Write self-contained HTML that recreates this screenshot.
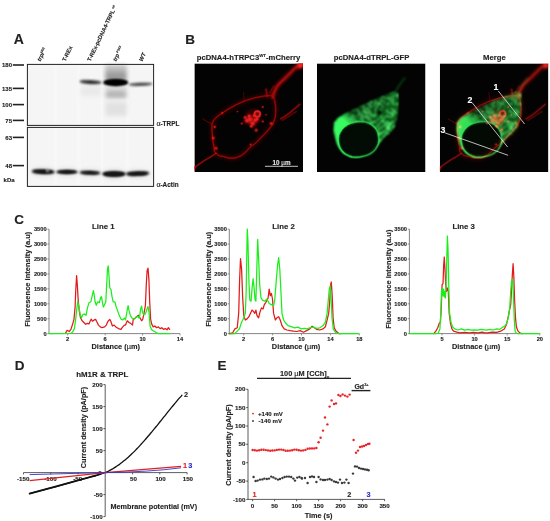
<!DOCTYPE html>
<html><head><meta charset="utf-8"><title>Figure</title>
<style>
html,body{margin:0;padding:0;background:#fff;}
body{width:550px;height:521px;overflow:hidden;font-family:"Liberation Sans",Arial,sans-serif;}
svg{display:block;}
svg text{font-family:"Liberation Sans",Arial,sans-serif;font-weight:bold;fill:#222;stroke:#222;stroke-width:0.22px;stroke-opacity:0.55;}
.it{font-style:italic;}
</style></head><body>
<svg width="550" height="521" viewBox="0 0 550 521">
<defs>
<filter id="bl1" x="-20%" y="-100%" width="140%" height="300%"><feGaussianBlur stdDeviation="0.9"/></filter>
<filter id="bl2" x="-20%" y="-50%" width="140%" height="200%"><feGaussianBlur stdDeviation="2.2"/></filter>
<filter id="soft" x="-5%" y="-5%" width="110%" height="110%"><feGaussianBlur stdDeviation="0.35"/></filter>
<filter id="g1" x="-20%" y="-20%" width="140%" height="140%"><feGaussianBlur stdDeviation="1.1"/></filter>
<filter id="g2" x="-20%" y="-20%" width="140%" height="140%"><feGaussianBlur stdDeviation="2.2"/></filter>
<filter id="cb1" x="-10%" y="-10%" width="120%" height="120%"><feGaussianBlur stdDeviation="3.8"/></filter>
<filter id="cb0" x="-10%" y="-10%" width="120%" height="120%"><feGaussianBlur stdDeviation="3.0"/></filter>
<filter id="cb2" x="-10%" y="-10%" width="120%" height="120%"><feGaussianBlur stdDeviation="5"/></filter>
<filter id="cb3" x="-10%" y="-10%" width="120%" height="120%"><feGaussianBlur stdDeviation="10"/></filter>
<filter id="net" x="0" y="0" width="100%" height="100%" color-interpolation-filters="sRGB">
 <feTurbulence type="turbulence" baseFrequency="0.17" numOctaves="2" seed="7" result="t"/>
 <feColorMatrix in="t" type="matrix" values="0 0 0 0 0.36  0 0 0 0 1.0  0 0 0 0 0.48  -6.0 0 0 0 1.45" result="c"/>
 <feComposite in="c" in2="SourceGraphic" operator="in" result="m"/>
 <feGaussianBlur in="m" stdDeviation="0.9"/>
</filter>
<linearGradient id="rimg" x1="0" y1="1" x2="1" y2="0"><stop offset="0" stop-color="#3cff68" stop-opacity="1"/><stop offset="0.36" stop-color="#38fa60" stop-opacity="1"/><stop offset="0.48" stop-color="#2ae650" stop-opacity="0"/></linearGradient>
<linearGradient id="gmg" gradientUnits="userSpaceOnUse" x1="24" y1="36" x2="58" y2="66"><stop offset="0" stop-color="#fff" stop-opacity="0.3"/><stop offset="0.55" stop-color="#fff" stop-opacity="0.75"/><stop offset="1" stop-color="#fff" stop-opacity="1"/></linearGradient>
<mask id="gm" maskUnits="userSpaceOnUse" x="0" y="0" width="110" height="110"><rect x="0" y="0" width="110" height="110" fill="url(#gmg)"/></mask>
<clipPath id="clip"><rect x="0" y="0" width="108.6" height="108.6"/></clipPath>

<g id="red" fill="none" stroke-linecap="round" stroke-linejoin="round">
<g filter="url(#g2)" opacity="0.32" stroke="#c00000">
<path d="M21.6 90.0C18.2 86.3 20.6 87.8 19.4 82.3C18.2 76.8 18.7 79.3 18.1 73.5C17.5 67.6 17.6 69.4 17.6 64.6C17.7 59.9 16.8 62.7 18.3 59.1C19.8 55.6 18.6 57.4 22.1 54.0C25.5 50.7 23.5 52.7 28.7 49.2C33.8 45.7 31.6 47.0 37.5 43.7C43.4 40.4 40.4 41.8 46.3 39.3C52.2 36.7 49.3 37.8 55.2 36.0C61.0 34.1 58.1 34.9 64.0 33.8C69.9 32.6 67.9 32.4 72.8 32.4C77.7 32.4 75.9 31.1 78.5 33.8C81.2 36.4 79.9 35.2 80.7 40.4C81.6 45.5 81.6 43.3 81.2 49.2C80.7 55.1 81.5 52.7 79.4 58.0C77.4 63.3 78.7 60.3 75.0 65.1C71.3 69.9 72.8 67.7 68.4 72.4C64.0 77.0 66.2 74.9 61.8 79.0C57.4 83.0 59.2 80.8 55.2 84.5C51.1 88.2 53.3 87.1 49.6 90.0C46.0 92.9 48.2 91.8 44.1 93.3C40.1 94.9 42.3 94.6 37.5 94.6C32.7 94.6 35.1 94.9 29.8 93.3C24.5 91.8 25.1 93.7 21.6 90.0Z" stroke-width="3.5"/>
<path d="M78.5 33.8C79.2 31.5 78.8 31.2 80.5 27.1C82.3 23.1 80.9 25.3 83.8 21.6C86.8 17.9 85.3 20.1 89.3 16.1C93.4 12.1 91.9 13.5 96.0 9.5C100.0 5.5 97.6 7.1 101.5 4.2C105.4 1.3 105.6 1.8 107.7 0.7" stroke-width="4"/>
<circle cx="58.5" cy="54" r="8.4" fill="#b00000" stroke="none"/>
</g>
<path d="M21.6 90.0C18.2 86.3 20.6 87.8 19.4 82.3C18.2 76.8 18.7 79.3 18.1 73.5C17.5 67.6 17.6 69.4 17.6 64.6C17.7 59.9 16.8 62.7 18.3 59.1C19.8 55.6 18.6 57.4 22.1 54.0C25.5 50.7 23.5 52.7 28.7 49.2C33.8 45.7 31.6 47.0 37.5 43.7C43.4 40.4 40.4 41.8 46.3 39.3C52.2 36.7 49.3 37.8 55.2 36.0C61.0 34.1 58.1 34.9 64.0 33.8C69.9 32.6 67.9 32.4 72.8 32.4C77.7 32.4 75.9 31.1 78.5 33.8C81.2 36.4 79.9 35.2 80.7 40.4C81.6 45.5 81.6 43.3 81.2 49.2C80.7 55.1 81.5 52.7 79.4 58.0C77.4 63.3 78.7 60.3 75.0 65.1C71.3 69.9 72.8 67.7 68.4 72.4C64.0 77.0 66.2 74.9 61.8 79.0C57.4 83.0 59.2 80.8 55.2 84.5C51.1 88.2 53.3 87.1 49.6 90.0C46.0 92.9 48.2 91.8 44.1 93.3C40.1 94.9 42.3 94.6 37.5 94.6C32.7 94.6 35.1 94.9 29.8 93.3C24.5 91.8 25.1 93.7 21.6 90.0Z" stroke="#cc1313" stroke-width="2.72" stroke-opacity="0.08"/>
<path d="M21.6 90.0C18.2 86.3 20.6 87.8 19.4 82.3C18.2 76.8 18.7 79.3 18.1 73.5C17.5 67.6 17.6 69.4 17.6 64.6C17.7 59.9 16.8 62.7 18.3 59.1C19.8 55.6 18.6 57.4 22.1 54.0C25.5 50.7 23.5 52.7 28.7 49.2C33.8 45.7 31.6 47.0 37.5 43.7C43.4 40.4 40.4 41.8 46.3 39.3C52.2 36.7 49.3 37.8 55.2 36.0C61.0 34.1 58.1 34.9 64.0 33.8C69.9 32.6 67.9 32.4 72.8 32.4C77.7 32.4 75.9 31.1 78.5 33.8C81.2 36.4 79.9 35.2 80.7 40.4C81.6 45.5 81.6 43.3 81.2 49.2C80.7 55.1 81.5 52.7 79.4 58.0C77.4 63.3 78.7 60.3 75.0 65.1C71.3 69.9 72.8 67.7 68.4 72.4C64.0 77.0 66.2 74.9 61.8 79.0C57.4 83.0 59.2 80.8 55.2 84.5C51.1 88.2 53.3 87.1 49.6 90.0C46.0 92.9 48.2 91.8 44.1 93.3C40.1 94.9 42.3 94.6 37.5 94.6C32.7 94.6 35.1 94.9 29.8 93.3C24.5 91.8 25.1 93.7 21.6 90.0Z" stroke="#cc1313" stroke-width="1.92" stroke-opacity="0.13"/>
<path d="M21.6 90.0C18.2 86.3 20.6 87.8 19.4 82.3C18.2 76.8 18.7 79.3 18.1 73.5C17.5 67.6 17.6 69.4 17.6 64.6C17.7 59.9 16.8 62.7 18.3 59.1C19.8 55.6 18.6 57.4 22.1 54.0C25.5 50.7 23.5 52.7 28.7 49.2C33.8 45.7 31.6 47.0 37.5 43.7C43.4 40.4 40.4 41.8 46.3 39.3C52.2 36.7 49.3 37.8 55.2 36.0C61.0 34.1 58.1 34.9 64.0 33.8C69.9 32.6 67.9 32.4 72.8 32.4C77.7 32.4 75.9 31.1 78.5 33.8C81.2 36.4 79.9 35.2 80.7 40.4C81.6 45.5 81.6 43.3 81.2 49.2C80.7 55.1 81.5 52.7 79.4 58.0C77.4 63.3 78.7 60.3 75.0 65.1C71.3 69.9 72.8 67.7 68.4 72.4C64.0 77.0 66.2 74.9 61.8 79.0C57.4 83.0 59.2 80.8 55.2 84.5C51.1 88.2 53.3 87.1 49.6 90.0C46.0 92.9 48.2 91.8 44.1 93.3C40.1 94.9 42.3 94.6 37.5 94.6C32.7 94.6 35.1 94.9 29.8 93.3C24.5 91.8 25.1 93.7 21.6 90.0Z" stroke="#cc1313" stroke-width="1.28" stroke-opacity="0.25"/>
<path d="M21.6 90.0C18.2 86.3 20.6 87.8 19.4 82.3C18.2 76.8 18.7 79.3 18.1 73.5C17.5 67.6 17.6 69.4 17.6 64.6C17.7 59.9 16.8 62.7 18.3 59.1C19.8 55.6 18.6 57.4 22.1 54.0C25.5 50.7 23.5 52.7 28.7 49.2C33.8 45.7 31.6 47.0 37.5 43.7C43.4 40.4 40.4 41.8 46.3 39.3C52.2 36.7 49.3 37.8 55.2 36.0C61.0 34.1 58.1 34.9 64.0 33.8C69.9 32.6 67.9 32.4 72.8 32.4C77.7 32.4 75.9 31.1 78.5 33.8C81.2 36.4 79.9 35.2 80.7 40.4C81.6 45.5 81.6 43.3 81.2 49.2C80.7 55.1 81.5 52.7 79.4 58.0C77.4 63.3 78.7 60.3 75.0 65.1C71.3 69.9 72.8 67.7 68.4 72.4C64.0 77.0 66.2 74.9 61.8 79.0C57.4 83.0 59.2 80.8 55.2 84.5C51.1 88.2 53.3 87.1 49.6 90.0C46.0 92.9 48.2 91.8 44.1 93.3C40.1 94.9 42.3 94.6 37.5 94.6C32.7 94.6 35.1 94.9 29.8 93.3C24.5 91.8 25.1 93.7 21.6 90.0Z" stroke="#cc1313" stroke-width="0.80" stroke-opacity="0.61"/>
<path d="M78.5 33.8C79.2 31.5 78.8 31.2 80.5 27.1C82.3 23.1 80.9 25.3 83.8 21.6C86.8 17.9 85.3 20.1 89.3 16.1C93.4 12.1 91.9 13.5 96.0 9.5C100.0 5.5 97.6 7.1 101.5 4.2C105.4 1.3 105.6 1.8 107.7 0.7" stroke="#8a0c0c" stroke-width="4.2" filter="url(#g1)" opacity="0.8"/>
<path d="M78.5 33.8C79.2 31.5 78.8 31.2 80.5 27.1C82.3 23.1 80.9 25.3 83.8 21.6C86.8 17.9 85.3 20.1 89.3 16.1C93.4 12.1 91.9 13.5 96.0 9.5C100.0 5.5 97.6 7.1 101.5 4.2C105.4 1.3 105.6 1.8 107.7 0.7" stroke="#c01212" stroke-width="4.08" stroke-opacity="0.06"/>
<path d="M78.5 33.8C79.2 31.5 78.8 31.2 80.5 27.1C82.3 23.1 80.9 25.3 83.8 21.6C86.8 17.9 85.3 20.1 89.3 16.1C93.4 12.1 91.9 13.5 96.0 9.5C100.0 5.5 97.6 7.1 101.5 4.2C105.4 1.3 105.6 1.8 107.7 0.7" stroke="#c01212" stroke-width="2.88" stroke-opacity="0.10"/>
<path d="M78.5 33.8C79.2 31.5 78.8 31.2 80.5 27.1C82.3 23.1 80.9 25.3 83.8 21.6C86.8 17.9 85.3 20.1 89.3 16.1C93.4 12.1 91.9 13.5 96.0 9.5C100.0 5.5 97.6 7.1 101.5 4.2C105.4 1.3 105.6 1.8 107.7 0.7" stroke="#c01212" stroke-width="1.92" stroke-opacity="0.18"/>
<path d="M78.5 33.8C79.2 31.5 78.8 31.2 80.5 27.1C82.3 23.1 80.9 25.3 83.8 21.6C86.8 17.9 85.3 20.1 89.3 16.1C93.4 12.1 91.9 13.5 96.0 9.5C100.0 5.5 97.6 7.1 101.5 4.2C105.4 1.3 105.6 1.8 107.7 0.7" stroke="#c01212" stroke-width="1.20" stroke-opacity="0.45"/>
<path d="M21.6 90.0C19.9 91.1 20.8 90.7 16.5 93.3C12.3 96.0 14.2 94.4 8.8 97.9C3.5 101.5 3.2 101.9 0.4 103.9" stroke="#cc1313" stroke-width="3.23" stroke-opacity="0.09"/>
<path d="M21.6 90.0C19.9 91.1 20.8 90.7 16.5 93.3C12.3 96.0 14.2 94.4 8.8 97.9C3.5 101.5 3.2 101.9 0.4 103.9" stroke="#cc1313" stroke-width="2.28" stroke-opacity="0.14"/>
<path d="M21.6 90.0C19.9 91.1 20.8 90.7 16.5 93.3C12.3 96.0 14.2 94.4 8.8 97.9C3.5 101.5 3.2 101.9 0.4 103.9" stroke="#cc1313" stroke-width="1.52" stroke-opacity="0.26"/>
<path d="M21.6 90.0C19.9 91.1 20.8 90.7 16.5 93.3C12.3 96.0 14.2 94.4 8.8 97.9C3.5 101.5 3.2 101.9 0.4 103.9" stroke="#cc1313" stroke-width="0.95" stroke-opacity="0.64"/>
<path d="M0.4 103.9L-0.4 106.5" stroke="#e01515" stroke-width="4.08" stroke-opacity="0.10"/>
<path d="M0.4 103.9L-0.4 106.5" stroke="#e01515" stroke-width="2.88" stroke-opacity="0.16"/>
<path d="M0.4 103.9L-0.4 106.5" stroke="#e01515" stroke-width="1.92" stroke-opacity="0.30"/>
<path d="M0.4 103.9L-0.4 106.5" stroke="#e01515" stroke-width="1.20" stroke-opacity="0.75"/>
<path d="M86.5 55.4C88.5 54.0 88.4 54.5 92.7 51.4C96.9 48.3 95.1 49.6 99.3 46.1C103.5 42.7 103.2 42.7 105.2 41.0" stroke="#b81010" stroke-width="4.42" stroke-opacity="0.07"/>
<path d="M86.5 55.4C88.5 54.0 88.4 54.5 92.7 51.4C96.9 48.3 95.1 49.6 99.3 46.1C103.5 42.7 103.2 42.7 105.2 41.0" stroke="#b81010" stroke-width="3.12" stroke-opacity="0.11"/>
<path d="M86.5 55.4C88.5 54.0 88.4 54.5 92.7 51.4C96.9 48.3 95.1 49.6 99.3 46.1C103.5 42.7 103.2 42.7 105.2 41.0" stroke="#b81010" stroke-width="2.08" stroke-opacity="0.21"/>
<path d="M86.5 55.4C88.5 54.0 88.4 54.5 92.7 51.4C96.9 48.3 95.1 49.6 99.3 46.1C103.5 42.7 103.2 42.7 105.2 41.0" stroke="#b81010" stroke-width="1.30" stroke-opacity="0.52"/>
<path d="M88.2 56.9C90.8 55.2 91.4 54.7 96.0 51.8C100.5 49.0 99.9 49.5 101.9 48.3" stroke="#a00e0e" stroke-width="3.40" stroke-opacity="0.06"/>
<path d="M88.2 56.9C90.8 55.2 91.4 54.7 96.0 51.8C100.5 49.0 99.9 49.5 101.9 48.3" stroke="#a00e0e" stroke-width="2.40" stroke-opacity="0.10"/>
<path d="M88.2 56.9C90.8 55.2 91.4 54.7 96.0 51.8C100.5 49.0 99.9 49.5 101.9 48.3" stroke="#a00e0e" stroke-width="1.60" stroke-opacity="0.18"/>
<path d="M88.2 56.9C90.8 55.2 91.4 54.7 96.0 51.8C100.5 49.0 99.9 49.5 101.9 48.3" stroke="#a00e0e" stroke-width="1.00" stroke-opacity="0.45"/>
<path d="M8.4 55.4C10.0 56.4 10.0 56.7 13.2 58.5C16.5 60.2 16.5 59.9 18.1 60.7" stroke="#b00c0c" stroke-width="2.04" stroke-opacity="0.06"/>
<path d="M8.4 55.4C10.0 56.4 10.0 56.7 13.2 58.5C16.5 60.2 16.5 59.9 18.1 60.7" stroke="#b00c0c" stroke-width="1.44" stroke-opacity="0.10"/>
<path d="M8.4 55.4C10.0 56.4 10.0 56.7 13.2 58.5C16.5 60.2 16.5 59.9 18.1 60.7" stroke="#b00c0c" stroke-width="0.96" stroke-opacity="0.18"/>
<path d="M8.4 55.4C10.0 56.4 10.0 56.7 13.2 58.5C16.5 60.2 16.5 59.9 18.1 60.7" stroke="#b00c0c" stroke-width="0.60" stroke-opacity="0.45"/>
<path d="M49.2 28.9C49.3 30.7 49.4 31.1 49.6 34.2C49.9 37.3 49.8 36.8 49.9 38.2" stroke="#a00a0a" stroke-width="1.87" stroke-opacity="0.06"/>
<path d="M49.2 28.9C49.3 30.7 49.4 31.1 49.6 34.2C49.9 37.3 49.8 36.8 49.9 38.2" stroke="#a00a0a" stroke-width="1.32" stroke-opacity="0.09"/>
<path d="M49.2 28.9C49.3 30.7 49.4 31.1 49.6 34.2C49.9 37.3 49.8 36.8 49.9 38.2" stroke="#a00a0a" stroke-width="0.88" stroke-opacity="0.17"/>
<path d="M49.2 28.9C49.3 30.7 49.4 31.1 49.6 34.2C49.9 37.3 49.8 36.8 49.9 38.2" stroke="#a00a0a" stroke-width="0.55" stroke-opacity="0.41"/>
<path d="M71.7 26.0C72.1 28.2 72.4 30.4 72.8 32.6" stroke="#b00c0c" stroke-width="5.10" stroke-opacity="0.07"/>
<path d="M71.7 26.0C72.1 28.2 72.4 30.4 72.8 32.6" stroke="#b00c0c" stroke-width="3.60" stroke-opacity="0.11"/>
<path d="M71.7 26.0C72.1 28.2 72.4 30.4 72.8 32.6" stroke="#b00c0c" stroke-width="2.40" stroke-opacity="0.21"/>
<path d="M71.7 26.0C72.1 28.2 72.4 30.4 72.8 32.6" stroke="#b00c0c" stroke-width="1.50" stroke-opacity="0.52"/>
<path d="M77.6 31.5L82.7 24.5M75.4 29.3L79.4 22.7" stroke="#a00a0a" stroke-width="3.74" stroke-opacity="0.06"/>
<path d="M77.6 31.5L82.7 24.5M75.4 29.3L79.4 22.7" stroke="#a00a0a" stroke-width="2.64" stroke-opacity="0.09"/>
<path d="M77.6 31.5L82.7 24.5M75.4 29.3L79.4 22.7" stroke="#a00a0a" stroke-width="1.76" stroke-opacity="0.17"/>
<path d="M77.6 31.5L82.7 24.5M75.4 29.3L79.4 22.7" stroke="#a00a0a" stroke-width="1.10" stroke-opacity="0.41"/>
<circle cx="105.9" cy="2.0" r="5.72" fill="#ff2222" fill-opacity="0.10" stroke="none"/>
<circle cx="105.9" cy="2.0" r="4.16" fill="#ff2222" fill-opacity="0.20" stroke="none"/>
<circle cx="105.9" cy="2.0" r="2.99" fill="#ff2222" fill-opacity="0.35" stroke="none"/>
<circle cx="105.9" cy="2.0" r="2.08" fill="#ff2222" fill-opacity="0.80" stroke="none"/>
<circle cx="62.9" cy="50.6" r="2.9" stroke="#f82424" stroke-width="1.6" stroke-opacity="0.85" fill="#a01010" fill-opacity="0.6"/>
<circle cx="62.9" cy="50.6" r="2.9" stroke="#f82424" stroke-width="3" stroke-opacity="0.25"/>
<circle cx="55.6" cy="55.8" r="5.34" fill="#fa2424" fill-opacity="0.09" stroke="none"/>
<circle cx="55.6" cy="55.8" r="3.88" fill="#fa2424" fill-opacity="0.18" stroke="none"/>
<circle cx="55.6" cy="55.8" r="2.79" fill="#fa2424" fill-opacity="0.32" stroke="none"/>
<circle cx="55.6" cy="55.8" r="1.94" fill="#fa2424" fill-opacity="0.72" stroke="none"/>
<circle cx="58.2" cy="60.2" r="4.80" fill="#fa2424" fill-opacity="0.09" stroke="none"/>
<circle cx="58.2" cy="60.2" r="3.49" fill="#fa2424" fill-opacity="0.18" stroke="none"/>
<circle cx="58.2" cy="60.2" r="2.51" fill="#fa2424" fill-opacity="0.32" stroke="none"/>
<circle cx="58.2" cy="60.2" r="1.75" fill="#fa2424" fill-opacity="0.72" stroke="none"/>
<circle cx="52.5" cy="57.1" r="4.27" fill="#fa2424" fill-opacity="0.09" stroke="none"/>
<circle cx="52.5" cy="57.1" r="3.11" fill="#fa2424" fill-opacity="0.18" stroke="none"/>
<circle cx="52.5" cy="57.1" r="2.23" fill="#fa2424" fill-opacity="0.32" stroke="none"/>
<circle cx="52.5" cy="57.1" r="1.55" fill="#fa2424" fill-opacity="0.72" stroke="none"/>
<circle cx="60.9" cy="56.7" r="4.27" fill="#fa2424" fill-opacity="0.09" stroke="none"/>
<circle cx="60.9" cy="56.7" r="3.11" fill="#fa2424" fill-opacity="0.18" stroke="none"/>
<circle cx="60.9" cy="56.7" r="2.23" fill="#fa2424" fill-opacity="0.32" stroke="none"/>
<circle cx="60.9" cy="56.7" r="1.55" fill="#fa2424" fill-opacity="0.72" stroke="none"/>
<circle cx="54.7" cy="52.7" r="3.20" fill="#fa2424" fill-opacity="0.09" stroke="none"/>
<circle cx="54.7" cy="52.7" r="2.33" fill="#fa2424" fill-opacity="0.18" stroke="none"/>
<circle cx="54.7" cy="52.7" r="1.67" fill="#fa2424" fill-opacity="0.32" stroke="none"/>
<circle cx="54.7" cy="52.7" r="1.16" fill="#fa2424" fill-opacity="0.72" stroke="none"/>
<circle cx="62.7" cy="55.4" r="3.20" fill="#fa2424" fill-opacity="0.09" stroke="none"/>
<circle cx="62.7" cy="55.4" r="2.33" fill="#fa2424" fill-opacity="0.18" stroke="none"/>
<circle cx="62.7" cy="55.4" r="1.67" fill="#fa2424" fill-opacity="0.32" stroke="none"/>
<circle cx="62.7" cy="55.4" r="1.16" fill="#fa2424" fill-opacity="0.72" stroke="none"/>
<circle cx="50.7" cy="54.0" r="2.67" fill="#fa2424" fill-opacity="0.09" stroke="none"/>
<circle cx="50.7" cy="54.0" r="1.94" fill="#fa2424" fill-opacity="0.18" stroke="none"/>
<circle cx="50.7" cy="54.0" r="1.40" fill="#fa2424" fill-opacity="0.32" stroke="none"/>
<circle cx="50.7" cy="54.0" r="0.97" fill="#fa2424" fill-opacity="0.72" stroke="none"/>
<circle cx="59.6" cy="52.3" r="2.67" fill="#fa2424" fill-opacity="0.09" stroke="none"/>
<circle cx="59.6" cy="52.3" r="1.94" fill="#fa2424" fill-opacity="0.18" stroke="none"/>
<circle cx="59.6" cy="52.3" r="1.40" fill="#fa2424" fill-opacity="0.32" stroke="none"/>
<circle cx="59.6" cy="52.3" r="0.97" fill="#fa2424" fill-opacity="0.72" stroke="none"/>
<circle cx="56.9" cy="62.9" r="2.67" fill="#fa2424" fill-opacity="0.09" stroke="none"/>
<circle cx="56.9" cy="62.9" r="1.94" fill="#fa2424" fill-opacity="0.18" stroke="none"/>
<circle cx="56.9" cy="62.9" r="1.40" fill="#fa2424" fill-opacity="0.32" stroke="none"/>
<circle cx="56.9" cy="62.9" r="0.97" fill="#fa2424" fill-opacity="0.72" stroke="none"/>
<circle cx="20.3" cy="63.5" r="2.55" fill="#ee1a1a" fill-opacity="0.09" stroke="none"/>
<circle cx="20.3" cy="63.5" r="1.85" fill="#ee1a1a" fill-opacity="0.17" stroke="none"/>
<circle cx="20.3" cy="63.5" r="1.33" fill="#ee1a1a" fill-opacity="0.30" stroke="none"/>
<circle cx="20.3" cy="63.5" r="0.93" fill="#ee1a1a" fill-opacity="0.68" stroke="none"/>
<circle cx="18.8" cy="74.6" r="3.06" fill="#ee1a1a" fill-opacity="0.09" stroke="none"/>
<circle cx="18.8" cy="74.6" r="2.22" fill="#ee1a1a" fill-opacity="0.17" stroke="none"/>
<circle cx="18.8" cy="74.6" r="1.60" fill="#ee1a1a" fill-opacity="0.30" stroke="none"/>
<circle cx="18.8" cy="74.6" r="1.11" fill="#ee1a1a" fill-opacity="0.68" stroke="none"/>
<circle cx="21.6" cy="84.9" r="3.06" fill="#ee1a1a" fill-opacity="0.09" stroke="none"/>
<circle cx="21.6" cy="84.9" r="2.22" fill="#ee1a1a" fill-opacity="0.17" stroke="none"/>
<circle cx="21.6" cy="84.9" r="1.60" fill="#ee1a1a" fill-opacity="0.30" stroke="none"/>
<circle cx="21.6" cy="84.9" r="1.11" fill="#ee1a1a" fill-opacity="0.68" stroke="none"/>
<circle cx="61.8" cy="66.8" r="3.06" fill="#ee1a1a" fill-opacity="0.09" stroke="none"/>
<circle cx="61.8" cy="66.8" r="2.22" fill="#ee1a1a" fill-opacity="0.17" stroke="none"/>
<circle cx="61.8" cy="66.8" r="1.60" fill="#ee1a1a" fill-opacity="0.30" stroke="none"/>
<circle cx="61.8" cy="66.8" r="1.11" fill="#ee1a1a" fill-opacity="0.68" stroke="none"/>
<circle cx="76.8" cy="60.2" r="3.06" fill="#ee1a1a" fill-opacity="0.09" stroke="none"/>
<circle cx="76.8" cy="60.2" r="2.22" fill="#ee1a1a" fill-opacity="0.17" stroke="none"/>
<circle cx="76.8" cy="60.2" r="1.60" fill="#ee1a1a" fill-opacity="0.30" stroke="none"/>
<circle cx="76.8" cy="60.2" r="1.11" fill="#ee1a1a" fill-opacity="0.68" stroke="none"/>
<circle cx="56.3" cy="81.2" r="2.04" fill="#ee1a1a" fill-opacity="0.09" stroke="none"/>
<circle cx="56.3" cy="81.2" r="1.48" fill="#ee1a1a" fill-opacity="0.17" stroke="none"/>
<circle cx="56.3" cy="81.2" r="1.07" fill="#ee1a1a" fill-opacity="0.30" stroke="none"/>
<circle cx="56.3" cy="81.2" r="0.74" fill="#ee1a1a" fill-opacity="0.68" stroke="none"/>
<circle cx="27.8" cy="49.6" r="2.04" fill="#ee1a1a" fill-opacity="0.09" stroke="none"/>
<circle cx="27.8" cy="49.6" r="1.48" fill="#ee1a1a" fill-opacity="0.17" stroke="none"/>
<circle cx="27.8" cy="49.6" r="1.07" fill="#ee1a1a" fill-opacity="0.30" stroke="none"/>
<circle cx="27.8" cy="49.6" r="0.74" fill="#ee1a1a" fill-opacity="0.68" stroke="none"/>
<circle cx="68.4" cy="43.7" r="2.04" fill="#ee1a1a" fill-opacity="0.09" stroke="none"/>
<circle cx="68.4" cy="43.7" r="1.48" fill="#ee1a1a" fill-opacity="0.17" stroke="none"/>
<circle cx="68.4" cy="43.7" r="1.07" fill="#ee1a1a" fill-opacity="0.30" stroke="none"/>
<circle cx="68.4" cy="43.7" r="0.74" fill="#ee1a1a" fill-opacity="0.68" stroke="none"/>
<circle cx="43.0" cy="48.1" r="1.53" fill="#ee1a1a" fill-opacity="0.09" stroke="none"/>
<circle cx="43.0" cy="48.1" r="1.11" fill="#ee1a1a" fill-opacity="0.17" stroke="none"/>
<circle cx="43.0" cy="48.1" r="0.80" fill="#ee1a1a" fill-opacity="0.30" stroke="none"/>
<circle cx="43.0" cy="48.1" r="0.56" fill="#ee1a1a" fill-opacity="0.68" stroke="none"/>
<circle cx="47.4" cy="60.2" r="2.04" fill="#ee1a1a" fill-opacity="0.09" stroke="none"/>
<circle cx="47.4" cy="60.2" r="1.48" fill="#ee1a1a" fill-opacity="0.17" stroke="none"/>
<circle cx="47.4" cy="60.2" r="1.07" fill="#ee1a1a" fill-opacity="0.30" stroke="none"/>
<circle cx="47.4" cy="60.2" r="0.74" fill="#ee1a1a" fill-opacity="0.68" stroke="none"/>
<circle cx="68.4" cy="58.0" r="2.04" fill="#ee1a1a" fill-opacity="0.09" stroke="none"/>
<circle cx="68.4" cy="58.0" r="1.48" fill="#ee1a1a" fill-opacity="0.17" stroke="none"/>
<circle cx="68.4" cy="58.0" r="1.07" fill="#ee1a1a" fill-opacity="0.30" stroke="none"/>
<circle cx="68.4" cy="58.0" r="0.74" fill="#ee1a1a" fill-opacity="0.68" stroke="none"/>
<circle cx="71.7" cy="51.4" r="1.53" fill="#ee1a1a" fill-opacity="0.09" stroke="none"/>
<circle cx="71.7" cy="51.4" r="1.11" fill="#ee1a1a" fill-opacity="0.17" stroke="none"/>
<circle cx="71.7" cy="51.4" r="0.80" fill="#ee1a1a" fill-opacity="0.30" stroke="none"/>
<circle cx="71.7" cy="51.4" r="0.56" fill="#ee1a1a" fill-opacity="0.68" stroke="none"/>
</g>
<g id="green" fill="none" stroke-linecap="round" stroke-linejoin="round">
<g mask="url(#gm)">
<path d="M17.2 62.4C17.5 56.8 17.2 60.0 19.4 56.9C21.6 53.8 19.4 56.1 23.8 53.2C28.2 50.2 26.0 51.6 32.6 48.1C39.3 44.6 36.3 46.2 43.7 42.6C51.0 39.0 47.4 40.5 54.7 37.3C62.1 34.0 59.3 35.5 65.7 32.9C72.2 30.2 69.3 30.5 74.1 29.3C78.9 28.2 77.7 27.1 80.1 29.3C82.5 31.5 81.1 30.1 81.4 36.0C81.7 41.8 81.7 39.6 81.0 47.0C80.2 54.3 81.2 51.4 79.2 58.0C77.2 64.6 78.6 61.7 75.0 66.8C71.4 72.0 72.8 69.0 68.4 73.5C64.0 77.9 66.2 75.7 61.8 80.1C57.4 84.5 59.7 83.0 55.2 86.7C50.6 90.4 53.4 88.8 48.1 91.1C42.8 93.4 45.2 93.4 39.3 93.5C33.4 93.7 35.9 94.4 30.4 91.6C25.0 88.7 26.9 90.8 22.9 84.9C19.0 79.0 20.4 81.4 18.5 73.9C16.6 66.4 16.9 68.1 17.2 62.4Z" fill="#0b5f1e" stroke="none" filter="url(#g1)"/>
<path d="M17.2 62.4C17.5 56.8 17.2 60.0 19.4 56.9C21.6 53.8 19.4 56.1 23.8 53.2C28.2 50.2 26.0 51.6 32.6 48.1C39.3 44.6 36.3 46.2 43.7 42.6C51.0 39.0 47.4 40.5 54.7 37.3C62.1 34.0 59.3 35.5 65.7 32.9C72.2 30.2 69.3 30.5 74.1 29.3C78.9 28.2 77.7 27.1 80.1 29.3C82.5 31.5 81.1 30.1 81.4 36.0C81.7 41.8 81.7 39.6 81.0 47.0C80.2 54.3 81.2 51.4 79.2 58.0C77.2 64.6 78.6 61.7 75.0 66.8C71.4 72.0 72.8 69.0 68.4 73.5C64.0 77.9 66.2 75.7 61.8 80.1C57.4 84.5 59.7 83.0 55.2 86.7C50.6 90.4 53.4 88.8 48.1 91.1C42.8 93.4 45.2 93.4 39.3 93.5C33.4 93.7 35.9 94.4 30.4 91.6C25.0 88.7 26.9 90.8 22.9 84.9C19.0 79.0 20.4 81.4 18.5 73.9C16.6 66.4 16.9 68.1 17.2 62.4Z" fill="#00ff00" stroke="none" filter="url(#net)" opacity="0.95"/>
</g>
<path d="M77.2 30.4L83 21L87.8 14.8" stroke="#0a5a1c" stroke-width="2.2" filter="url(#g1)" opacity="0.55"/>
<path d="M17.2 62.4C17.5 56.8 17.2 60.0 19.4 56.9C21.6 53.8 19.4 56.1 23.8 53.2C28.2 50.2 26.0 51.6 32.6 48.1C39.3 44.6 36.3 46.2 43.7 42.6C51.0 39.0 47.4 40.5 54.7 37.3C62.1 34.0 59.3 35.5 65.7 32.9C72.2 30.2 69.3 30.5 74.1 29.3C78.9 28.2 77.7 27.1 80.1 29.3C82.5 31.5 81.1 30.1 81.4 36.0C81.7 41.8 81.7 39.6 81.0 47.0C80.2 54.3 81.2 51.4 79.2 58.0C77.2 64.6 78.6 61.7 75.0 66.8C71.4 72.0 72.8 69.0 68.4 73.5C64.0 77.9 66.2 75.7 61.8 80.1C57.4 84.5 59.7 83.0 55.2 86.7C50.6 90.4 53.4 88.8 48.1 91.1C42.8 93.4 45.2 93.4 39.3 93.5C33.4 93.7 35.9 94.4 30.4 91.6C25.0 88.7 26.9 90.8 22.9 84.9C19.0 79.0 20.4 81.4 18.5 73.9C16.6 66.4 16.9 68.1 17.2 62.4Z" fill="url(#rimg)" stroke="none" filter="url(#g1)"/>
<g transform="rotate(-10 41.7 76.0)">
<rect x="22.1" y="59.1" width="39.2" height="33.8" rx="17.5" ry="15.5" stroke="#38f45c" stroke-width="4.6" stroke-opacity="0.14"/>
<rect x="22.1" y="59.1" width="39.2" height="33.8" rx="17.5" ry="15.5" stroke="#38f45c" stroke-width="3.2" stroke-opacity="0.22"/>
<rect x="22.1" y="59.1" width="39.2" height="33.8" rx="17.5" ry="15.5" stroke="#38f45c" stroke-width="2.2" stroke-opacity="0.40"/>
<rect x="22.3" y="59.3" width="38.8" height="33.4" rx="17.5" ry="15.5" fill="#020b04" stroke="#1a8a34" stroke-width="0.8"/>
<rect x="23.1" y="60.1" width="37.2" height="31.8" rx="16.5" ry="14.5" fill="#020b04" stroke="#06300f" stroke-width="0.8"/>
</g>
<circle cx="62.7" cy="49.2" r="4.40" fill="#031505" fill-opacity="0.10" stroke="none"/>
<circle cx="62.7" cy="49.2" r="3.20" fill="#031505" fill-opacity="0.20" stroke="none"/>
<circle cx="62.7" cy="49.2" r="2.30" fill="#031505" fill-opacity="0.35" stroke="none"/>
<circle cx="62.7" cy="49.2" r="1.60" fill="#031505" fill-opacity="0.80" stroke="none"/>
</g>
</defs>
<rect width="550" height="521" fill="#fff"/>
<text x="13.8" y="43.8" font-size="14" >A</text>
<text x="12.0" y="67.1" font-size="6" text-anchor="end" >180</text>
<line x1="12.8" y1="65.0" x2="24" y2="65.0" stroke="#222" stroke-width="1.6"/>
<text x="12.0" y="90.5" font-size="6" text-anchor="end" >135</text>
<line x1="12.8" y1="88.4" x2="24" y2="88.4" stroke="#222" stroke-width="1.6"/>
<text x="12.0" y="106.7" font-size="6" text-anchor="end" >100</text>
<line x1="12.8" y1="104.6" x2="24" y2="104.6" stroke="#222" stroke-width="1.6"/>
<text x="12.0" y="122.5" font-size="6" text-anchor="end" >75</text>
<line x1="12.8" y1="120.4" x2="24" y2="120.4" stroke="#222" stroke-width="1.6"/>
<text x="12.0" y="139.5" font-size="6" text-anchor="end" >63</text>
<line x1="12.8" y1="137.4" x2="24" y2="137.4" stroke="#222" stroke-width="1.6"/>
<text x="12.0" y="167.7" font-size="6" text-anchor="end" >48</text>
<line x1="12.8" y1="165.6" x2="24" y2="165.6" stroke="#222" stroke-width="1.6"/>
<text x="3.6" y="182.2" font-size="6" >kDa</text>
<rect x="27.4" y="64.4" width="126.2" height="61" fill="#f5f5f5"/>
<rect x="27.4" y="127.4" width="126.2" height="59" fill="#f5f5f5"/>
<rect x="54.3" y="65" width="2.4" height="121" fill="#fafafa" opacity="0.8" filter="url(#bl1)"/>
<rect x="77.3" y="65" width="2.4" height="121" fill="#fafafa" opacity="0.8" filter="url(#bl1)"/>
<rect x="100.8" y="65" width="2.4" height="121" fill="#fafafa" opacity="0.8" filter="url(#bl1)"/>
<rect x="126.3" y="65" width="2.4" height="121" fill="#fafafa" opacity="0.8" filter="url(#bl1)"/>
<g>
<rect x="105" y="65" width="22" height="16" fill="#8a8a8a" opacity="0.5" filter="url(#bl2)"/>
<rect x="106" y="72" width="20" height="9" fill="#666" opacity="0.4" filter="url(#bl2)"/>
<rect x="105.5" y="86" width="21.5" height="13" fill="#b5b5b5" opacity="0.55" filter="url(#bl2)"/>
<rect x="106" y="92.5" width="20" height="4" rx="2" fill="#888" opacity="0.55" filter="url(#bl2)"/>
<rect x="105.5" y="102" width="21.5" height="14" fill="#d4d4d4" opacity="0.6" filter="url(#bl2)"/>
<rect x="81" y="86" width="20" height="10" fill="#ddd" opacity="0.5" filter="url(#bl2)"/>
<ellipse cx="90.5" cy="82.1" rx="11.2" ry="2.1" fill="#303030" filter="url(#bl1)" transform="rotate(3.0 90.5 82.1)"/>
<ellipse cx="115.7" cy="82.4" rx="12.6" ry="3.5" fill="#000" filter="url(#bl1)" transform="rotate(0.0 115.7 82.4)"/>
<ellipse cx="115.7" cy="82.6" rx="11.0" ry="2.6" fill="#000" filter="url(#bl1)" transform="rotate(0.0 115.7 82.6)"/>
<ellipse cx="140.6" cy="84.3" rx="12.0" ry="1.8" fill="#505050" filter="url(#bl1)" transform="rotate(-2.0 140.6 84.3)"/>
<ellipse cx="43.2" cy="171.7" rx="11.6" ry="2.3" fill="#000" filter="url(#bl1)" transform="rotate(2.0 43.2 171.7)"/>
<ellipse cx="43.2" cy="171.7" rx="9.6" ry="1.6" fill="#000" filter="url(#bl1)" transform="rotate(2.0 43.2 171.7)"/>
<ellipse cx="43.2" cy="171.7" rx="11.6" ry="3.8" fill="#666" opacity="0.22" filter="url(#bl2)"/>
<ellipse cx="67.0" cy="171.9" rx="10.9" ry="2.0" fill="#000" filter="url(#bl1)" transform="rotate(0.0 67.0 171.9)"/>
<ellipse cx="67.0" cy="171.9" rx="8.9" ry="1.3" fill="#000" filter="url(#bl1)" transform="rotate(0.0 67.0 171.9)"/>
<ellipse cx="67.0" cy="171.9" rx="10.9" ry="3.5" fill="#666" opacity="0.22" filter="url(#bl2)"/>
<ellipse cx="90.0" cy="172.7" rx="10.6" ry="1.8" fill="#000" filter="url(#bl1)" transform="rotate(2.0 90.0 172.7)"/>
<ellipse cx="90.0" cy="172.7" rx="8.6" ry="1.1" fill="#000" filter="url(#bl1)" transform="rotate(2.0 90.0 172.7)"/>
<ellipse cx="90.0" cy="172.7" rx="10.6" ry="3.3" fill="#666" opacity="0.22" filter="url(#bl2)"/>
<ellipse cx="114.0" cy="174.0" rx="11.9" ry="2.7" fill="#000" filter="url(#bl1)" transform="rotate(0.0 114.0 174.0)"/>
<ellipse cx="114.0" cy="174.0" rx="9.9" ry="2.0" fill="#000" filter="url(#bl1)" transform="rotate(0.0 114.0 174.0)"/>
<ellipse cx="114.0" cy="174.0" rx="11.9" ry="4.2" fill="#666" opacity="0.22" filter="url(#bl2)"/>
<ellipse cx="137.6" cy="173.6" rx="12.0" ry="2.2" fill="#000" filter="url(#bl1)" transform="rotate(-2.0 137.6 173.6)"/>
<ellipse cx="137.6" cy="173.6" rx="10.0" ry="1.5" fill="#000" filter="url(#bl1)" transform="rotate(-2.0 137.6 173.6)"/>
<ellipse cx="137.6" cy="173.6" rx="12.0" ry="3.7" fill="#666" opacity="0.22" filter="url(#bl2)"/>
<ellipse cx="47.5" cy="170.3" rx="1.6" ry="2.2" fill="#ccc" filter="url(#bl1)" opacity="0.6"/>
</g>
<rect x="27.4" y="64.4" width="126.2" height="61" fill="none" stroke="#222" stroke-width="1"/>
<rect x="27.4" y="127.4" width="126.2" height="59" fill="none" stroke="#222" stroke-width="1"/>
<text x="156.4" y="125.9" font-size="6.4" ><tspan font-weight="normal" font-family="Liberation Serif, serif" font-size="7.8">α</tspan>-TRPL</text>
<text x="156.4" y="187.1" font-size="6.4" ><tspan font-weight="normal" font-family="Liberation Serif, serif" font-size="7.8">α</tspan>-Actin</text>
<text transform="translate(40.4,61.7) rotate(-64.5)" font-size="5.65" class="it">trpl<tspan dy="-2.1" font-size="3.2">302</tspan></text>
<text transform="translate(65.6,61.7) rotate(-64.5)" font-size="5.65" >T-REx</text>
<text transform="translate(90.6,61.7) rotate(-64.5)" font-size="5.65" >T-REx-pcDNA4-TRPL<tspan dy="-2.1" font-size="3.2"> wt</tspan></text>
<text transform="translate(116.3,61.7) rotate(-64.5)" font-size="5.65" class="it">trp<tspan dy="-2.1" font-size="3.2"> P343</tspan></text>
<text transform="translate(142.2,61.7) rotate(-64.5)" font-size="5.65" class="it">WT</text>
<text x="185.2" y="43.5" font-size="13.5" >B</text>
<text x="248.5" y="60.0" font-size="7.7" text-anchor="middle" >pcDNA4-hTRPC3<tspan dy="-2.6" font-size="4.4">WT</tspan><tspan dy="2.6">-mCherry</tspan></text>
<text x="371.6" y="60.0" font-size="7.7" text-anchor="middle" >pcDNA4-dTRPL-GFP</text>
<text x="494.4" y="60.0" font-size="7.7" text-anchor="middle" >Merge</text>
<g transform="translate(194.4,63.4)" clip-path="url(#clip)">
<rect x="0" y="0" width="108.6" height="108.6" fill="#030303"/>
<use href="#red"/>
<line x1="70.6" y1="102.9" x2="103.6" y2="102.9" stroke="#d8d8d8" stroke-width="0.9"/>
<text x="87.1" y="101.3" font-size="6.3" text-anchor="middle" style="fill:#e8e8e8;stroke:#e8e8e8">10 <tspan font-weight="normal">µ</tspan>m</text>
</g>
<g transform="translate(316.9,63.4)" clip-path="url(#clip)">
<rect x="0" y="0" width="108.6" height="108.6" fill="#030303"/>
<use href="#green"/>
</g>
<g transform="translate(439.8,63.4)" clip-path="url(#clip)">
<rect x="0" y="0" width="108.6" height="108.6" fill="#030303"/>
<use href="#green" opacity="0.9"/>
<g style="mix-blend-mode:screen" opacity="0.85"><use href="#red"/></g>
</g>
<line x1="498.2" y1="90.9" x2="524.6" y2="124.0" stroke="#e8e8e8" stroke-width="0.8"/>
<line x1="472.4" y1="103.0" x2="507.7" y2="147.1" stroke="#e8e8e8" stroke-width="0.8"/>
<line x1="444.8" y1="132.8" x2="508.1" y2="155.3" stroke="#e8e8e8" stroke-width="0.8"/>
<text x="496.0" y="90.1" font-size="8.8" text-anchor="middle" style="fill:#fff;stroke:#fff">1</text>
<text x="469.9" y="103.3" font-size="8.8" text-anchor="middle" style="fill:#fff;stroke:#fff">2</text>
<text x="443.0" y="133.3" font-size="8.8" text-anchor="middle" style="fill:#fff;stroke:#fff">3</text>
<text x="14.3" y="223.8" font-size="13.5" >C</text>
<path d="M49.0 229.2 V333.6 H180.0" fill="none" stroke="#777" stroke-width="0.9"/>
<line x1="47.4" y1="333.6" x2="49.0" y2="333.6" stroke="#777" stroke-width="0.8"/>
<text x="46.6" y="335.6" font-size="5.7" text-anchor="end" >0</text>
<line x1="47.4" y1="318.7" x2="49.0" y2="318.7" stroke="#777" stroke-width="0.8"/>
<text x="46.6" y="320.7" font-size="5.7" text-anchor="end" >500</text>
<line x1="47.4" y1="303.8" x2="49.0" y2="303.8" stroke="#777" stroke-width="0.8"/>
<text x="46.6" y="305.8" font-size="5.7" text-anchor="end" >1000</text>
<line x1="47.4" y1="288.8" x2="49.0" y2="288.8" stroke="#777" stroke-width="0.8"/>
<text x="46.6" y="290.8" font-size="5.7" text-anchor="end" >1500</text>
<line x1="47.4" y1="273.9" x2="49.0" y2="273.9" stroke="#777" stroke-width="0.8"/>
<text x="46.6" y="275.9" font-size="5.7" text-anchor="end" >2000</text>
<line x1="47.4" y1="259.0" x2="49.0" y2="259.0" stroke="#777" stroke-width="0.8"/>
<text x="46.6" y="261.0" font-size="5.7" text-anchor="end" >2500</text>
<line x1="47.4" y1="244.1" x2="49.0" y2="244.1" stroke="#777" stroke-width="0.8"/>
<text x="46.6" y="246.1" font-size="5.7" text-anchor="end" >3000</text>
<line x1="47.4" y1="229.2" x2="49.0" y2="229.2" stroke="#777" stroke-width="0.8"/>
<text x="46.6" y="231.2" font-size="5.7" text-anchor="end" >3500</text>
<line x1="67.7" y1="333.6" x2="67.7" y2="335.4" stroke="#777" stroke-width="0.8"/>
<text x="67.7" y="341.2" font-size="5.7" text-anchor="middle" >2</text>
<line x1="105.2" y1="333.6" x2="105.2" y2="335.4" stroke="#777" stroke-width="0.8"/>
<text x="105.2" y="341.2" font-size="5.7" text-anchor="middle" >6</text>
<line x1="142.6" y1="333.6" x2="142.6" y2="335.4" stroke="#777" stroke-width="0.8"/>
<text x="142.6" y="341.2" font-size="5.7" text-anchor="middle" >10</text>
<line x1="180.0" y1="333.6" x2="180.0" y2="335.4" stroke="#777" stroke-width="0.8"/>
<text x="180.0" y="341.2" font-size="5.7" text-anchor="middle" >14</text>
<text x="103.3" y="228.8" font-size="7.8" text-anchor="middle" >Line 1</text>
<text x="115.7" y="349.2" font-size="7.35" text-anchor="middle" >Distance (<tspan font-weight="normal">µ</tspan>m)</text>
<text transform="translate(30.2,279.2) rotate(-90)" font-size="7.5" text-anchor="middle">Fluoresence intensity (a.u)</text>
<path d="M229.3 229.2 V333.6 H359.3" fill="none" stroke="#777" stroke-width="0.9"/>
<line x1="227.7" y1="333.6" x2="229.3" y2="333.6" stroke="#777" stroke-width="0.8"/>
<text x="226.9" y="335.6" font-size="5.7" text-anchor="end" >0</text>
<line x1="227.7" y1="318.7" x2="229.3" y2="318.7" stroke="#777" stroke-width="0.8"/>
<text x="226.9" y="320.7" font-size="5.7" text-anchor="end" >500</text>
<line x1="227.7" y1="303.8" x2="229.3" y2="303.8" stroke="#777" stroke-width="0.8"/>
<text x="226.9" y="305.8" font-size="5.7" text-anchor="end" >1000</text>
<line x1="227.7" y1="288.8" x2="229.3" y2="288.8" stroke="#777" stroke-width="0.8"/>
<text x="226.9" y="290.8" font-size="5.7" text-anchor="end" >1500</text>
<line x1="227.7" y1="273.9" x2="229.3" y2="273.9" stroke="#777" stroke-width="0.8"/>
<text x="226.9" y="275.9" font-size="5.7" text-anchor="end" >2000</text>
<line x1="227.7" y1="259.0" x2="229.3" y2="259.0" stroke="#777" stroke-width="0.8"/>
<text x="226.9" y="261.0" font-size="5.7" text-anchor="end" >2500</text>
<line x1="227.7" y1="244.1" x2="229.3" y2="244.1" stroke="#777" stroke-width="0.8"/>
<text x="226.9" y="246.1" font-size="5.7" text-anchor="end" >3000</text>
<line x1="227.7" y1="229.2" x2="229.3" y2="229.2" stroke="#777" stroke-width="0.8"/>
<text x="226.9" y="231.2" font-size="5.7" text-anchor="end" >3500</text>
<line x1="243.7" y1="333.6" x2="243.7" y2="335.4" stroke="#777" stroke-width="0.8"/>
<text x="243.7" y="341.2" font-size="5.7" text-anchor="middle" >2</text>
<line x1="272.6" y1="333.6" x2="272.6" y2="335.4" stroke="#777" stroke-width="0.8"/>
<text x="272.6" y="341.2" font-size="5.7" text-anchor="middle" >6</text>
<line x1="301.5" y1="333.6" x2="301.5" y2="335.4" stroke="#777" stroke-width="0.8"/>
<text x="301.5" y="341.2" font-size="5.7" text-anchor="middle" >10</text>
<line x1="330.4" y1="333.6" x2="330.4" y2="335.4" stroke="#777" stroke-width="0.8"/>
<text x="330.4" y="341.2" font-size="5.7" text-anchor="middle" >14</text>
<line x1="359.3" y1="333.6" x2="359.3" y2="335.4" stroke="#777" stroke-width="0.8"/>
<text x="359.3" y="341.2" font-size="5.7" text-anchor="middle" >18</text>
<text x="283.6" y="228.8" font-size="7.8" text-anchor="middle" >Line 2</text>
<text x="296.0" y="349.2" font-size="7.35" text-anchor="middle" >Distance (<tspan font-weight="normal">µ</tspan>m)</text>
<text transform="translate(210.5,279.2) rotate(-90)" font-size="7.5" text-anchor="middle">Fluoresence intensity (a.u)</text>
<path d="M409.4 229.2 V333.6 H539.8" fill="none" stroke="#777" stroke-width="0.9"/>
<line x1="407.8" y1="333.6" x2="409.4" y2="333.6" stroke="#777" stroke-width="0.8"/>
<text x="407.0" y="335.6" font-size="5.7" text-anchor="end" >0</text>
<line x1="407.8" y1="318.7" x2="409.4" y2="318.7" stroke="#777" stroke-width="0.8"/>
<text x="407.0" y="320.7" font-size="5.7" text-anchor="end" >500</text>
<line x1="407.8" y1="303.8" x2="409.4" y2="303.8" stroke="#777" stroke-width="0.8"/>
<text x="407.0" y="305.8" font-size="5.7" text-anchor="end" >1000</text>
<line x1="407.8" y1="288.8" x2="409.4" y2="288.8" stroke="#777" stroke-width="0.8"/>
<text x="407.0" y="290.8" font-size="5.7" text-anchor="end" >1500</text>
<line x1="407.8" y1="273.9" x2="409.4" y2="273.9" stroke="#777" stroke-width="0.8"/>
<text x="407.0" y="275.9" font-size="5.7" text-anchor="end" >2000</text>
<line x1="407.8" y1="259.0" x2="409.4" y2="259.0" stroke="#777" stroke-width="0.8"/>
<text x="407.0" y="261.0" font-size="5.7" text-anchor="end" >2500</text>
<line x1="407.8" y1="244.1" x2="409.4" y2="244.1" stroke="#777" stroke-width="0.8"/>
<text x="407.0" y="246.1" font-size="5.7" text-anchor="end" >3000</text>
<line x1="407.8" y1="229.2" x2="409.4" y2="229.2" stroke="#777" stroke-width="0.8"/>
<text x="407.0" y="231.2" font-size="5.7" text-anchor="end" >3500</text>
<line x1="442.0" y1="333.6" x2="442.0" y2="335.4" stroke="#777" stroke-width="0.8"/>
<text x="442.0" y="341.2" font-size="5.7" text-anchor="middle" >5</text>
<line x1="474.6" y1="333.6" x2="474.6" y2="335.4" stroke="#777" stroke-width="0.8"/>
<text x="474.6" y="341.2" font-size="5.7" text-anchor="middle" >10</text>
<line x1="507.2" y1="333.6" x2="507.2" y2="335.4" stroke="#777" stroke-width="0.8"/>
<text x="507.2" y="341.2" font-size="5.7" text-anchor="middle" >15</text>
<line x1="539.8" y1="333.6" x2="539.8" y2="335.4" stroke="#777" stroke-width="0.8"/>
<text x="539.8" y="341.2" font-size="5.7" text-anchor="middle" >20</text>
<text x="463.7" y="228.8" font-size="7.8" text-anchor="middle" >Line 3</text>
<text x="476.1" y="349.2" font-size="7.35" text-anchor="middle" >Distnace (<tspan font-weight="normal">µ</tspan>m)</text>
<text transform="translate(390.6,279.2) rotate(-90)" font-size="7.5" text-anchor="middle">Fluorescence intensity (a.u)</text>
<polyline points="65.7,332.9 67.1,330.3 69.2,331.5 70.9,329.4 72.6,324.3 74.0,319.1 75.1,307.0 75.7,291.5 76.6,275.6 77.3,284.5 78.2,300.1 79.2,310.4 80.4,317.4 82.1,320.8 83.9,322.5 85.6,324.3 87.3,323.4 89.0,323.9 90.3,320.8 91.3,319.1 92.5,321.2 94.2,319.9 95.6,319.4 96.8,321.7 98.5,325.1 100.3,326.9 102.0,327.7 104.6,326.9 106.3,325.1 108.0,321.2 109.8,319.4 111.0,321.7 112.4,326.0 114.1,325.1 115.8,326.9 118.4,328.6 121.0,329.4 122.7,326.9 124.4,325.1 125.5,325.1 127.3,320.8 129.0,322.5 130.7,323.4 132.5,325.1 133.3,319.1 135.0,318.2 136.8,316.5 138.5,315.3 140.2,318.2 141.6,320.8 142.8,319.1 144.2,312.2 145.4,305.3 146.3,284.5 147.1,270.7 148.0,268.1 148.9,279.4 149.7,301.8 150.6,319.1 151.8,324.3 153.2,326.9 154.9,326.0 156.6,327.7 158.4,326.9 160.1,328.6 161.8,327.7 163.5,329.4 165.3,328.6 167.0,329.8 168.4,327.7 169.6,329.4" fill="none" stroke="#e21a1a" stroke-width="1.25" stroke-linejoin="round" stroke-linecap="round"/>
<polyline points="49.0,333.6 70.9,333.4 72.6,332.0 74.4,328.6 75.7,319.1 76.8,308.7 77.8,301.5 78.9,307.0 80.1,313.9 81.3,318.2 82.7,314.8 84.4,313.9 86.1,315.3 87.3,308.7 89.0,302.7 90.8,301.8 92.0,296.6 93.4,290.6 94.2,294.9 95.1,301.8 96.3,305.3 97.7,301.8 99.4,302.7 100.6,297.5 101.5,296.6 102.3,301.8 103.4,307.0 104.6,304.4 105.8,301.8 106.7,284.5 107.5,269.0 108.2,265.9 108.9,274.2 109.8,288.0 111.0,289.7 112.0,296.6 113.2,301.8 114.9,301.8 116.2,307.0 117.5,310.4 119.3,315.6 121.0,319.1 122.7,319.9 124.4,318.2 125.5,319.9 127.3,309.6 128.1,305.6 129.0,310.4 130.4,315.6 132.1,318.2 134.2,319.1 135.9,317.4 137.6,316.5 139.4,318.2 140.7,308.7 141.6,306.1 142.5,312.2 143.7,314.8 145.4,313.9 146.8,309.6 148.0,306.6 149.0,312.2 150.1,326.0 151.5,329.4 153.2,330.8 155.3,332.0 156.6,332.9 158.4,333.6 169.6,333.6" fill="none" stroke="#1bef1b" stroke-width="1.25" stroke-linejoin="round" stroke-linecap="round"/>
<polyline points="229.4,333.7 232.7,332.8 234.9,328.9 237.2,327.8 238.7,313.4 239.6,280.2 240.5,258.6 241.6,269.2 242.7,297.9 243.8,315.6 245.3,320.0 247.1,318.9 248.9,316.7 250.4,313.4 252.0,310.1 253.3,311.2 254.8,313.4 255.9,310.1 257.0,315.6 258.6,317.8 259.9,312.3 261.5,307.9 263.0,309.0 264.3,304.6 265.9,302.3 267.0,300.1 268.1,297.9 269.2,289.1 270.3,295.7 271.4,293.5 272.5,299.0 273.6,313.4 275.4,320.0 276.9,317.8 278.7,316.7 280.2,320.0 282.0,325.6 284.2,328.9 286.9,330.0 290.2,330.6 293.5,331.1 296.8,331.5 300.1,330.6 303.5,332.2 306.6,330.6 309.9,328.9 312.1,326.2 314.3,327.8 316.5,329.3 319.8,330.0 323.1,328.9 325.4,326.7 327.1,320.0 328.7,313.4 329.8,300.1 330.7,284.7 331.3,282.0 332.2,295.7 333.1,317.8 334.2,327.8 336.0,331.1 338.6,333.3 340.8,333.7" fill="none" stroke="#e21a1a" stroke-width="1.25" stroke-linejoin="round" stroke-linecap="round"/>
<polyline points="229.4,334.0 234.9,333.7 237.2,331.1 239.4,328.9 241.6,322.2 243.8,317.8 245.3,313.4 246.2,291.3 246.9,247.1 247.3,229.0 248.0,242.7 248.9,280.2 249.8,300.1 251.1,301.2 252.0,289.1 253.1,278.7 254.0,286.9 255.1,300.1 255.9,301.2 256.8,269.2 257.7,239.4 258.6,258.1 259.7,284.7 261.0,297.9 262.6,300.1 264.8,301.2 267.0,299.0 269.2,303.5 271.4,304.6 273.6,305.7 274.7,300.1 276.3,280.2 277.6,264.8 278.7,257.7 279.8,269.2 280.9,291.3 282.0,313.4 283.6,320.0 285.8,323.3 288.0,325.6 291.3,326.7 294.6,327.8 297.9,327.1 301.2,328.9 304.6,328.4 306.6,328.9 309.9,327.8 313.2,327.1 316.5,328.4 319.8,327.8 323.1,325.6 325.4,322.2 327.1,313.4 328.5,297.9 329.3,289.1 330.2,285.8 331.1,297.9 332.0,317.8 333.3,328.9 335.3,332.2 338.6,333.7 349.7,333.7 358.5,333.7" fill="none" stroke="#1bef1b" stroke-width="1.25" stroke-linejoin="round" stroke-linecap="round"/>
<polyline points="433.7,333.7 435.9,331.1 437.7,327.8 439.3,323.3 440.4,322.2 441.2,309.0 442.1,284.7 443.0,283.6 443.7,264.8 444.3,257.0 445.0,269.2 445.7,284.7 446.5,291.3 447.4,288.0 448.3,291.3 449.2,313.4 450.5,323.3 451.9,328.9 453.6,331.1 456.9,332.2 460.2,332.8 464.7,332.4 469.1,332.8 473.5,332.4 477.9,332.8 482.3,332.2 484.6,332.8 487.7,332.8 492.1,332.2 496.5,332.4 500.9,331.1 504.3,328.9 506.5,324.4 508.0,317.8 509.3,311.2 510.7,304.6 511.5,291.3 512.4,273.6 513.1,263.7 513.8,275.8 514.6,300.1 515.5,317.8 516.4,326.7 517.7,330.6 519.7,332.8 521.9,333.7" fill="none" stroke="#e21a1a" stroke-width="1.25" stroke-linejoin="round" stroke-linecap="round"/>
<polyline points="409.4,333.7 435.9,333.7 438.1,333.3 439.9,328.9 440.8,313.4 441.5,291.3 442.1,288.0 442.8,295.7 443.5,289.1 444.1,296.8 444.8,291.3 445.4,297.9 446.1,286.9 446.8,258.1 447.4,236.0 448.1,251.5 448.8,286.9 449.6,313.4 451.0,322.2 452.5,326.7 454.7,328.9 458.0,330.0 461.4,328.9 464.7,330.2 468.0,329.3 471.3,330.2 474.6,329.8 477.9,330.2 481.2,329.3 484.6,329.8 486.6,330.2 489.9,329.3 493.2,330.0 496.5,328.9 499.8,329.3 503.1,327.1 505.4,325.6 507.1,322.2 508.7,315.6 509.8,306.8 510.7,291.3 511.5,281.4 512.4,279.1 513.3,291.3 514.2,317.8 515.1,331.1 516.4,333.3 518.6,333.7 539.6,333.7" fill="none" stroke="#1bef1b" stroke-width="1.25" stroke-linejoin="round" stroke-linecap="round"/>
<text x="14.8" y="370.3" font-size="13.5" >D</text>
<text x="102.3" y="376.6" font-size="7.9" text-anchor="middle" >hM1R &amp; TRPL</text>
<line x1="105.2" y1="384.6" x2="105.2" y2="516.6" stroke="#333" stroke-width="0.8"/>
<line x1="23.5" y1="472.6" x2="187.1" y2="472.6" stroke="#333" stroke-width="0.8"/>
<line x1="103.4" y1="384.6" x2="105.2" y2="384.6" stroke="#333" stroke-width="0.8"/>
<text x="102.6" y="386.7" font-size="6.2" text-anchor="end" >200</text>
<line x1="103.4" y1="406.6" x2="105.2" y2="406.6" stroke="#333" stroke-width="0.8"/>
<text x="102.6" y="408.7" font-size="6.2" text-anchor="end" >150</text>
<line x1="103.4" y1="428.6" x2="105.2" y2="428.6" stroke="#333" stroke-width="0.8"/>
<text x="102.6" y="430.7" font-size="6.2" text-anchor="end" >100</text>
<line x1="103.4" y1="450.6" x2="105.2" y2="450.6" stroke="#333" stroke-width="0.8"/>
<text x="102.6" y="452.7" font-size="6.2" text-anchor="end" >50</text>
<line x1="103.4" y1="472.6" x2="105.2" y2="472.6" stroke="#333" stroke-width="0.8"/>
<line x1="103.4" y1="494.6" x2="105.2" y2="494.6" stroke="#333" stroke-width="0.8"/>
<text x="102.6" y="496.7" font-size="6.2" text-anchor="end" >-50</text>
<line x1="103.4" y1="516.6" x2="105.2" y2="516.6" stroke="#333" stroke-width="0.8"/>
<text x="102.6" y="518.7" font-size="6.2" text-anchor="end" >-100</text>
<text x="101.8" y="475.0" font-size="6.2" text-anchor="end" >0</text>
<line x1="23.5" y1="472.6" x2="23.5" y2="474.4" stroke="#333" stroke-width="0.8"/>
<text x="23.2" y="481.0" font-size="6.2" text-anchor="middle" >-150</text>
<line x1="50.8" y1="472.6" x2="50.8" y2="474.4" stroke="#333" stroke-width="0.8"/>
<text x="50.5" y="481.0" font-size="6.2" text-anchor="middle" >-100</text>
<line x1="78.0" y1="472.6" x2="78.0" y2="474.4" stroke="#333" stroke-width="0.8"/>
<text x="77.8" y="481.0" font-size="6.2" text-anchor="middle" >-50</text>
<line x1="132.6" y1="472.6" x2="132.6" y2="474.4" stroke="#333" stroke-width="0.8"/>
<text x="133.4" y="481.0" font-size="6.2" text-anchor="middle" >50</text>
<line x1="159.8" y1="472.6" x2="159.8" y2="474.4" stroke="#333" stroke-width="0.8"/>
<text x="160.6" y="481.0" font-size="6.2" text-anchor="middle" >100</text>
<line x1="187.1" y1="472.6" x2="187.1" y2="474.4" stroke="#333" stroke-width="0.8"/>
<text x="187.9" y="481.0" font-size="6.2" text-anchor="middle" >150</text>
<text transform="translate(86,427.5) rotate(-90)" font-size="7.3" text-anchor="middle">Current density (pA/pF)</text>
<text x="153.8" y="509.4" font-size="7.25" text-anchor="middle" >Membrane potential (mV)</text>
<path d="M29.6 493.6C36.4 491.8 36.5 491.9 50.0 488.2C63.5 484.5 56.7 486.3 70.0 482.6C83.3 478.9 80.7 479.7 90.0 477.2C99.3 474.7 92.9 476.6 98.0 475.0C103.1 473.4 101.5 473.9 105.2 472.5C108.9 471.1 106.5 472.0 109.0 470.8C111.5 469.5 110.3 470.2 112.8 468.7C115.3 467.2 114.1 468.0 116.6 466.3C119.1 464.6 117.9 465.5 120.4 463.6C122.9 461.7 121.7 462.7 124.2 460.6C126.7 458.5 125.5 459.6 128.0 457.4C130.5 455.1 129.3 456.3 131.8 453.8C134.3 451.4 133.1 452.6 135.6 450.1C138.1 447.5 136.9 448.8 139.4 446.1C141.9 443.3 140.7 444.7 143.2 441.9C145.7 439.0 144.5 440.5 147.0 437.5C149.5 434.6 148.3 436.1 150.8 433.0C153.3 430.0 152.1 431.5 154.6 428.4C157.1 425.4 155.9 426.9 158.4 423.8C160.9 420.6 159.7 422.2 162.2 419.1C164.7 415.9 163.5 417.5 166.0 414.3C168.5 411.2 167.3 412.7 169.8 409.6C172.3 406.5 171.1 408.0 173.6 405.0C176.1 401.9 174.9 403.4 177.4 400.4C179.9 397.5 179.8 397.7 181.2 396.1C182.6 394.4 181.5 395.8 181.6 395.6" fill="none" stroke="#111" stroke-width="1.3" stroke-linecap="round"/>
<path d="M29.6 493.6L70 482.6L100 474.2" fill="none" stroke="#111" stroke-width="1.7" stroke-linecap="round"/>
<polyline points="29.6,480.6 105.2,472.6 181,466.4" fill="none" stroke="#e02020" stroke-width="1.1"/>
<path d="M29.6 474.6 L105.2 472.6 Q150 472 181 467.8" fill="none" stroke="#3030d0" stroke-width="0.9"/>
<text x="186.0" y="397.0" font-size="7.3" text-anchor="middle" >2</text>
<text x="185.0" y="468.2" font-size="7.3" text-anchor="middle" fill="#e02020" style="fill:#e02020;stroke:#e02020">1</text>
<text x="190.4" y="468.2" font-size="7.3" text-anchor="middle" fill="#2a2ad0" style="fill:#2a2ad0;stroke:#2a2ad0">3</text>
<text x="217.4" y="370.3" font-size="13.5" >E</text>
<line x1="257" y1="378.4" x2="351" y2="378.4" stroke="#222" stroke-width="1.4"/>
<text x="280" y="376.2" font-size="7.35">100 <tspan font-weight="normal">µ</tspan>M [CCh]<tspan dy="1.6" font-size="4.2">o</tspan></text>
<line x1="351.6" y1="390.6" x2="370.4" y2="390.6" stroke="#222" stroke-width="1.4"/>
<text x="354.4" y="388.6" font-size="7">Gd<tspan dy="-3" font-size="4">3+</tspan></text>
<path d="M248 389.3 V499.4 H384.8" fill="none" stroke="#333" stroke-width="0.8"/>
<line x1="246.2" y1="389.3" x2="248" y2="389.3" stroke="#333" stroke-width="0.8"/>
<text x="245.4" y="391.4" font-size="6.2" text-anchor="end" >200</text>
<line x1="246.2" y1="407.6" x2="248" y2="407.6" stroke="#333" stroke-width="0.8"/>
<text x="245.4" y="409.7" font-size="6.2" text-anchor="end" >150</text>
<line x1="246.2" y1="426.0" x2="248" y2="426.0" stroke="#333" stroke-width="0.8"/>
<text x="245.4" y="428.1" font-size="6.2" text-anchor="end" >100</text>
<line x1="246.2" y1="444.3" x2="248" y2="444.3" stroke="#333" stroke-width="0.8"/>
<text x="245.4" y="446.4" font-size="6.2" text-anchor="end" >50</text>
<line x1="246.2" y1="462.7" x2="248" y2="462.7" stroke="#333" stroke-width="0.8"/>
<text x="245.4" y="464.8" font-size="6.2" text-anchor="end" >0</text>
<line x1="246.2" y1="481.1" x2="248" y2="481.1" stroke="#333" stroke-width="0.8"/>
<text x="245.4" y="483.2" font-size="6.2" text-anchor="end" >-50</text>
<line x1="246.2" y1="499.4" x2="248" y2="499.4" stroke="#333" stroke-width="0.8"/>
<text x="245.4" y="501.5" font-size="6.2" text-anchor="end" >-100</text>
<line x1="252.6" y1="499.4" x2="252.6" y2="501.2" stroke="#333" stroke-width="0.8"/>
<text x="252.6" y="507.8" font-size="6.2" text-anchor="middle" >0</text>
<line x1="274.6" y1="499.4" x2="274.6" y2="501.2" stroke="#333" stroke-width="0.8"/>
<text x="274.6" y="507.8" font-size="6.2" text-anchor="middle" >50</text>
<line x1="296.6" y1="499.4" x2="296.6" y2="501.2" stroke="#333" stroke-width="0.8"/>
<text x="296.6" y="507.8" font-size="6.2" text-anchor="middle" >100</text>
<line x1="318.6" y1="499.4" x2="318.6" y2="501.2" stroke="#333" stroke-width="0.8"/>
<text x="318.6" y="507.8" font-size="6.2" text-anchor="middle" >150</text>
<line x1="340.6" y1="499.4" x2="340.6" y2="501.2" stroke="#333" stroke-width="0.8"/>
<text x="340.6" y="507.8" font-size="6.2" text-anchor="middle" >200</text>
<line x1="362.6" y1="499.4" x2="362.6" y2="501.2" stroke="#333" stroke-width="0.8"/>
<text x="362.6" y="507.8" font-size="6.2" text-anchor="middle" >300</text>
<line x1="384.6" y1="499.4" x2="384.6" y2="501.2" stroke="#333" stroke-width="0.8"/>
<text x="384.6" y="507.8" font-size="6.2" text-anchor="middle" >350</text>
<text transform="translate(230.6,445) rotate(-90)" font-size="7.3" text-anchor="middle">Current density (pA/pF)</text>
<text x="318.6" y="518.2" font-size="7.3" text-anchor="middle" >Time (s)</text>
<circle cx="253" cy="413.6" r="0.9" fill="#e02020"/>
<circle cx="253" cy="421" r="0.9" fill="#333"/>
<text x="258.0" y="415.8" font-size="6.1" >+140 mV</text>
<text x="258.6" y="423.2" font-size="6.1" >-140 mV</text>
<text x="254.6" y="497.2" font-size="7.3" text-anchor="middle" fill="#e02020" style="fill:#e02020;stroke:#e02020">1</text>
<text x="349.2" y="497.2" font-size="7.3" text-anchor="middle" >2</text>
<text x="368.6" y="497.2" font-size="7.3" text-anchor="middle" fill="#2a2ad0" style="fill:#2a2ad0;stroke:#2a2ad0">3</text>
<circle cx="252.6" cy="450.0" r="1.2" fill="#e8262a"/>
<circle cx="254.8" cy="450.3" r="1.2" fill="#e8262a"/>
<circle cx="257.0" cy="450.6" r="1.2" fill="#e8262a"/>
<circle cx="259.2" cy="450.2" r="1.2" fill="#e8262a"/>
<circle cx="261.4" cy="449.7" r="1.2" fill="#e8262a"/>
<circle cx="263.6" cy="449.7" r="1.2" fill="#e8262a"/>
<circle cx="265.8" cy="450.1" r="1.2" fill="#e8262a"/>
<circle cx="268.0" cy="450.4" r="1.2" fill="#e8262a"/>
<circle cx="270.2" cy="450.7" r="1.2" fill="#e8262a"/>
<circle cx="272.4" cy="450.5" r="1.2" fill="#e8262a"/>
<circle cx="274.6" cy="450.4" r="1.2" fill="#e8262a"/>
<circle cx="276.8" cy="449.9" r="1.2" fill="#e8262a"/>
<circle cx="279.0" cy="449.6" r="1.2" fill="#e8262a"/>
<circle cx="281.2" cy="449.6" r="1.2" fill="#e8262a"/>
<circle cx="283.4" cy="450.0" r="1.2" fill="#e8262a"/>
<circle cx="285.6" cy="450.8" r="1.2" fill="#e8262a"/>
<circle cx="287.8" cy="450.8" r="1.2" fill="#e8262a"/>
<circle cx="290.0" cy="450.6" r="1.2" fill="#e8262a"/>
<circle cx="292.2" cy="450.2" r="1.2" fill="#e8262a"/>
<circle cx="294.4" cy="449.6" r="1.2" fill="#e8262a"/>
<circle cx="296.6" cy="449.7" r="1.2" fill="#e8262a"/>
<circle cx="298.8" cy="450.3" r="1.2" fill="#e8262a"/>
<circle cx="301.0" cy="450.6" r="1.2" fill="#e8262a"/>
<circle cx="303.2" cy="450.4" r="1.2" fill="#e8262a"/>
<circle cx="305.4" cy="449.9" r="1.2" fill="#e8262a"/>
<circle cx="307.6" cy="448.7" r="1.2" fill="#e8262a"/>
<circle cx="309.8" cy="448.5" r="1.2" fill="#e8262a"/>
<circle cx="312.0" cy="448.4" r="1.2" fill="#e8262a"/>
<circle cx="314.2" cy="448.4" r="1.2" fill="#e8262a"/>
<circle cx="316.4" cy="448.0" r="1.2" fill="#e8262a"/>
<circle cx="318.6" cy="442.2" r="1.2" fill="#e8262a"/>
<circle cx="320.6" cy="437.8" r="1.2" fill="#e8262a"/>
<circle cx="323.0" cy="430.6" r="1.2" fill="#e8262a"/>
<circle cx="325.0" cy="417.5" r="1.2" fill="#e8262a"/>
<circle cx="327.4" cy="424.4" r="1.2" fill="#e8262a"/>
<circle cx="329.6" cy="406.6" r="1.2" fill="#e8262a"/>
<circle cx="331.6" cy="400.4" r="1.2" fill="#e8262a"/>
<circle cx="334.0" cy="404.0" r="1.2" fill="#e8262a"/>
<circle cx="336.0" cy="403.4" r="1.2" fill="#e8262a"/>
<circle cx="338.4" cy="395.0" r="1.2" fill="#e8262a"/>
<circle cx="340.4" cy="396.0" r="1.2" fill="#e8262a"/>
<circle cx="342.6" cy="394.4" r="1.2" fill="#e8262a"/>
<circle cx="345.0" cy="395.6" r="1.2" fill="#e8262a"/>
<circle cx="347.4" cy="396.6" r="1.2" fill="#e8262a"/>
<circle cx="349.6" cy="394.6" r="1.2" fill="#e8262a"/>
<circle cx="353.6" cy="440.0" r="1.2" fill="#e8262a"/>
<circle cx="356.0" cy="452.8" r="1.2" fill="#e8262a"/>
<circle cx="358.0" cy="450.6" r="1.2" fill="#e8262a"/>
<circle cx="360.0" cy="447.0" r="1.2" fill="#e8262a"/>
<circle cx="362.0" cy="446.5" r="1.2" fill="#e8262a"/>
<circle cx="364.0" cy="446.0" r="1.2" fill="#e8262a"/>
<circle cx="366.0" cy="445.0" r="1.2" fill="#e8262a"/>
<circle cx="368.0" cy="444.0" r="1.2" fill="#e8262a"/>
<circle cx="369.4" cy="443.8" r="1.2" fill="#e8262a"/>
<circle cx="253.6" cy="477.0" r="1.2" fill="#3a3a3a"/>
<circle cx="255.6" cy="481.0" r="1.2" fill="#3a3a3a"/>
<circle cx="257.6" cy="480.6" r="1.2" fill="#3a3a3a"/>
<circle cx="260.0" cy="479.6" r="1.2" fill="#3a3a3a"/>
<circle cx="262.4" cy="479.4" r="1.2" fill="#3a3a3a"/>
<circle cx="264.4" cy="478.6" r="1.2" fill="#3a3a3a"/>
<circle cx="266.8" cy="479.0" r="1.2" fill="#3a3a3a"/>
<circle cx="269.0" cy="478.6" r="1.2" fill="#3a3a3a"/>
<circle cx="271.2" cy="476.6" r="1.2" fill="#3a3a3a"/>
<circle cx="273.4" cy="477.4" r="1.2" fill="#3a3a3a"/>
<circle cx="275.6" cy="478.6" r="1.2" fill="#3a3a3a"/>
<circle cx="278.0" cy="479.6" r="1.2" fill="#3a3a3a"/>
<circle cx="280.0" cy="479.0" r="1.2" fill="#3a3a3a"/>
<circle cx="282.4" cy="478.0" r="1.2" fill="#3a3a3a"/>
<circle cx="284.6" cy="477.0" r="1.2" fill="#3a3a3a"/>
<circle cx="286.8" cy="476.6" r="1.2" fill="#3a3a3a"/>
<circle cx="289.0" cy="476.6" r="1.2" fill="#3a3a3a"/>
<circle cx="291.2" cy="477.0" r="1.2" fill="#3a3a3a"/>
<circle cx="293.4" cy="478.6" r="1.2" fill="#3a3a3a"/>
<circle cx="295.0" cy="480.6" r="1.2" fill="#3a3a3a"/>
<circle cx="297.2" cy="477.6" r="1.2" fill="#3a3a3a"/>
<circle cx="299.4" cy="477.0" r="1.2" fill="#3a3a3a"/>
<circle cx="301.6" cy="478.0" r="1.2" fill="#3a3a3a"/>
<circle cx="302.0" cy="478.6" r="1.2" fill="#3a3a3a"/>
<circle cx="305.0" cy="478.0" r="1.2" fill="#3a3a3a"/>
<circle cx="307.6" cy="483.0" r="1.2" fill="#3a3a3a"/>
<circle cx="310.0" cy="477.0" r="1.2" fill="#3a3a3a"/>
<circle cx="312.0" cy="476.4" r="1.2" fill="#3a3a3a"/>
<circle cx="314.0" cy="477.0" r="1.2" fill="#3a3a3a"/>
<circle cx="316.4" cy="482.0" r="1.2" fill="#3a3a3a"/>
<circle cx="318.6" cy="477.0" r="1.2" fill="#3a3a3a"/>
<circle cx="320.6" cy="479.4" r="1.2" fill="#3a3a3a"/>
<circle cx="323.0" cy="480.0" r="1.2" fill="#3a3a3a"/>
<circle cx="325.0" cy="480.0" r="1.2" fill="#3a3a3a"/>
<circle cx="327.4" cy="479.6" r="1.2" fill="#3a3a3a"/>
<circle cx="329.6" cy="479.0" r="1.2" fill="#3a3a3a"/>
<circle cx="331.6" cy="480.0" r="1.2" fill="#3a3a3a"/>
<circle cx="334.0" cy="481.4" r="1.2" fill="#3a3a3a"/>
<circle cx="336.0" cy="482.0" r="1.2" fill="#3a3a3a"/>
<circle cx="338.0" cy="482.6" r="1.2" fill="#3a3a3a"/>
<circle cx="340.0" cy="479.6" r="1.2" fill="#3a3a3a"/>
<circle cx="342.0" cy="483.0" r="1.2" fill="#3a3a3a"/>
<circle cx="344.4" cy="482.6" r="1.2" fill="#3a3a3a"/>
<circle cx="346.4" cy="479.6" r="1.2" fill="#3a3a3a"/>
<circle cx="348.6" cy="483.0" r="1.2" fill="#3a3a3a"/>
<circle cx="353.0" cy="473.6" r="1.2" fill="#3a3a3a"/>
<circle cx="355.0" cy="466.4" r="1.2" fill="#3a3a3a"/>
<circle cx="357.0" cy="466.6" r="1.2" fill="#3a3a3a"/>
<circle cx="359.0" cy="468.0" r="1.2" fill="#3a3a3a"/>
<circle cx="361.0" cy="468.6" r="1.2" fill="#3a3a3a"/>
<circle cx="363.0" cy="469.0" r="1.2" fill="#3a3a3a"/>
<circle cx="365.0" cy="469.4" r="1.2" fill="#3a3a3a"/>
<circle cx="367.0" cy="469.8" r="1.2" fill="#3a3a3a"/>
<circle cx="368.6" cy="470.2" r="1.2" fill="#3a3a3a"/>
</svg></body></html>
